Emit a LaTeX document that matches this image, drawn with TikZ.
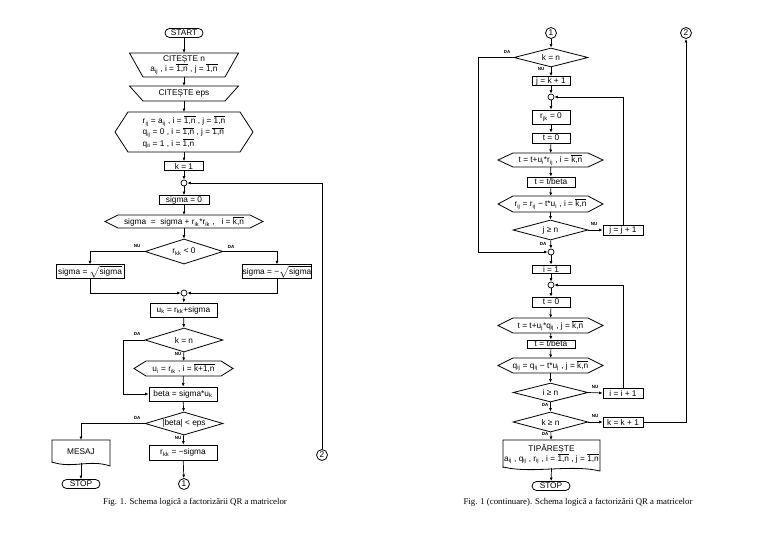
\documentclass[tikz,border=0pt]{standalone}
\usepackage{fontspec}
\setmainfont{Liberation Sans}
\newfontfamily\capfont{Liberation Serif}
\usetikzlibrary{shapes.geometric,arrows.meta}
\newcommand\sbs[1]{\textsubscript{#1}}
\newcommand\ovl[1]{$\overline{\mbox{#1}}$}
\newcommand\sqr[1]{$\sqrt{\mbox{#1}}$}
\newcommand\hexa[2]{\draw[shp] (#1.west) -- ([xshift=#2]#1.north west) -- ([xshift=-#2]#1.north east) -- (#1.east) -- ([xshift=-#2]#1.south east) -- ([xshift=#2]#1.south west) -- cycle;}
\newcommand\trap[2]{\draw[shp] (#1.north west) -- (#1.north east) -- ([xshift=-#2]#1.south east) -- ([xshift=#2]#1.south west) -- cycle;}
\newcommand\docshape[2]{\draw[shp] (#1.south west) -- (#1.north west) -- (#1.north east) -- ([yshift=-3pt]#1.south east) .. controls ([xshift=-#2,yshift=4pt]#1.south east) and ([xshift=#2,yshift=-6pt]#1.south west) .. ([yshift=1pt]#1.south west) -- cycle;}
\begin{document}
\begin{tikzpicture}[x=1pt,y=-1pt,
  every node/.style={font=\fontsize{8.3}{9.3}\selectfont, inner sep=0.5pt},
  shp/.style={line width=0.8pt},
  arr/.style={line width=0.7pt,-{Latex[length=3.5pt,width=3pt]}},
  ln/.style={line width=0.7pt},
  box/.style={draw,line width=0.8pt,minimum width=#1,minimum height=9pt},
  bx/.style={draw=none,outer sep=0pt,inner sep=0pt},
  term/.style={draw,line width=0.8pt,rounded corners=4.5pt,minimum width=38pt,minimum height=9pt,inner sep=0pt},
  dec/.style={diamond,draw,line width=0.8pt,aspect=3,inner sep=0pt},
  junc/.style={circle,draw,line width=0.7pt,fill=white,minimum size=6pt,inner sep=0pt},
  conn/.style={circle,draw,line width=0.8pt,minimum size=11pt,inner sep=0pt},
  yn/.style={font=\fontsize{4.5}{5}\selectfont\bfseries,inner sep=0pt}
]
\useasboundingbox (0,0) rectangle (768,543);

% ---------------- LEFT ----------------
\node[term] (start) at (184,33) {START};
\node[bx,minimum width=109pt,minimum height=24pt,align=center] (rd1) at (184,65) {CITEȘTE n\\a\sbs{ij} , i = \ovl{1,n} , j = \ovl{1,n}};
\trap{rd1}{13.5pt}
\node[bx,minimum width=109pt,minimum height=15pt] (rd2) at (184,93.5) {CITEȘTE eps};
\trap{rd2}{13.5pt}
\node[bx,minimum width=138pt,minimum height=40pt,align=left] (ini) at (184,132) {r\sbs{ij} = a\sbs{ij} , i = \ovl{1,n} , j = \ovl{1,n}\\q\sbs{ij} = 0 , i = \ovl{1,n} , j = \ovl{1,n}\\q\sbs{ii} = 1 , i = \ovl{1,n}};
\hexa{ini}{13pt}
\node[box=39pt] (k1) at (184,166) {k = 1};
\node[junc] (j1) at (184,183) {};
\node[box=50pt] (s0) at (184,200) {sigma = 0};
\node[bx,minimum width=158pt,minimum height=13pt] (ssum) at (184,221.5) {sigma \ = \ sigma + r\sbs{ik}*r\sbs{ik} , \ \ i = \ovl{k,n}};
\hexa{ssum}{13pt}
\node[dec,minimum width=78pt,minimum height=25pt] (d1) at (184,251.5) {r\sbs{kk} < 0};
\node[box=68pt,minimum height=11pt] (sl) at (90,271.5) {sigma = \sqr{sigma}};
\node[box=68pt,minimum height=11pt] (sr) at (277,271.5) {sigma = −\sqr{sigma}};
\node[junc] (j2) at (184,293) {};
\node[box=67pt,minimum height=14pt] (uk) at (183.5,310) {u\sbs{k} = r\sbs{kk}+sigma};
\node[dec,minimum width=78pt,minimum height=24pt] (d2) at (184,340) {k = n};
\node[bx,minimum width=99pt,minimum height=15pt] (ui) at (183.5,368.5) {u\sbs{i} = r\sbs{ik} , i = \ovl{k+1,n}};
\hexa{ui}{12pt}
\node[box=68pt,minimum height=14pt] (beta) at (183,394) {beta = sigma*u\sbs{k}};
\node[dec,minimum width=78pt,minimum height=23pt] (d3) at (184,423.5) {|beta| < eps};
\node[bx,minimum width=58pt,minimum height=23pt] (mes) at (81,451.5) {MESAJ};
\docshape{mes}{20pt}
\node[term] (stop1) at (81,484) {STOP};
\node[box=68pt,minimum height=15pt] (rkk) at (183,452.5) {r\sbs{kk} = −sigma};
\node[conn] (c1) at (184,484) {1};
\node[conn] (c2) at (322,455) {2};

\draw[arr] (start) -- (rd1);
\draw[arr] (rd1) -- (rd2);
\draw[arr] (rd2) -- (ini);
\draw[arr] (ini) -- (k1);
\draw[arr] (k1) -- (j1);
\draw[arr] (j1) -- (s0);
\draw[arr] (s0) -- (ssum);
\draw[arr] (ssum) -- (d1);
\draw[arr] (d1.west) -| (sl.north);
\draw[arr] (d1.east) -| (sr.north);
\draw[arr] (sl.south) |- (j2.west);
\draw[arr] (sr.south) |- (j2.east);
\draw[arr] (j2) -- (uk);
\draw[arr] (uk) -- (d2);
\draw[arr] (d2.west) -- ++(-21,0) |- (beta.west);
\draw[arr] (d2) -- (ui);
\draw[arr] (ui) -- (beta);
\draw[arr] (beta) -- (d3);
\draw[arr] (d3.west) -| (mes.north);
\draw[arr] (d3) -- (rkk);
\draw[arr] (rkk) -- (c1);
\draw[arr] (mes.south) -- (stop1);
\draw[arr] (c2.north) |- (j1.east);

\node[yn] (l1) at (137,246) {NU};
\node[yn] (l2) at (231,246.5) {DA};
\node[yn] (l3) at (137,334) {DA};
\node[yn] (l4) at (178,354) {NU};
\node[yn] (l5) at (137,418) {DA};
\node[yn] (l6) at (178,437.5) {NU};

% ---------------- RIGHT ----------------
\node[conn] (r1) at (551,33) {1};
\node[conn] (r2) at (686,33) {2};
\node[dec,minimum width=74pt,minimum height=19pt] (d4) at (551,57.5) {k = n};
\node[box=38pt,minimum height=8pt] (jk) at (551,81) {j = k + 1};
\node[junc] (j3) at (551,97) {};
\node[box=38pt,minimum height=14pt] (rjk) at (551,117) {r\sbs{jk} = 0};
\node[box=38pt,minimum height=10pt] (t0) at (551,138) {t = 0};
\node[bx,minimum width=105pt,minimum height=14pt] (ht) at (550.5,160) {t = t+u\sbs{i}*r\sbs{ij} , i = \ovl{k,n}};
\hexa{ht}{15pt}
\node[box=48pt,minimum height=10pt] (tb) at (551,182) {t = t/beta};
\node[bx,minimum width=105pt,minimum height=16pt] (hr) at (550.5,204) {r\sbs{ij} = r\sbs{ij} − t*u\sbs{i} , i = \ovl{k,n}};
\hexa{hr}{15pt}
\node[dec,minimum width=75pt,minimum height=20pt] (d5) at (550.5,230) {j ≥ n};
\node[box=40pt,minimum height=10pt] (jj) at (623,230) {j = j + 1};
\node[junc] (j5) at (551,252) {};
\node[box=38pt,minimum height=8pt] (i1) at (551,269) {i = 1};
\node[junc] (j4) at (551,285) {};
\node[box=38pt,minimum height=10pt] (t0b) at (551,302) {t = 0};
\node[bx,minimum width=105pt,minimum height=15pt] (ht2) at (550.5,325.5) {t = t+u\sbs{j}*q\sbs{ij} , j = \ovl{k,n}};
\hexa{ht2}{15pt}
\node[box=48pt,minimum height=8pt] (tb2) at (551,344) {t = t/beta};
\node[bx,minimum width=105pt,minimum height=15pt] (hq) at (550.5,365.5) {q\sbs{ij} = q\sbs{ij} − t*u\sbs{j} , j = \ovl{k,n}};
\hexa{hq}{15pt}
\node[dec,minimum width=75pt,minimum height=19pt] (d6) at (550.5,392.5) {i ≥ n};
\node[box=40pt,minimum height=10pt] (ii) at (623,393) {i = i + 1};
\node[dec,minimum width=75pt,minimum height=20pt] (d7) at (550.5,422) {k ≥ n};
\node[box=40pt,minimum height=10pt] (kk) at (623,422) {k = k + 1};
\node[bx,minimum width=97pt,minimum height=28pt,align=center] (tip) at (551.5,454) {TIPĂREȘTE\\a\sbs{ij} , q\sbs{ij} , r\sbs{ij} , i = \ovl{1,n} , j = \ovl{1,n}};
\docshape{tip}{30pt}
\node[term] (stop2) at (551,486) {STOP};

\draw[arr] (r1) -- (d4);
\draw[arr] (d4.west) -- ++(-35,0) |- (j5.west);
\draw[arr] (d4) -- (jk);
\draw[arr] (jk) -- (j3);
\draw[arr] (j3) -- (rjk);
\draw[arr] (rjk) -- (t0);
\draw[arr] (t0) -- (ht);
\draw[arr] (ht) -- (tb);
\draw[arr] (tb) -- (hr);
\draw[arr] (hr) -- (d5);
\draw[arr] (d5.east) -- (jj.west);
\draw[arr] (jj.north) |- (j3.east);
\draw[arr] (d5) -- (j5);
\draw[arr] (j5) -- (i1);
\draw[arr] (i1) -- (j4);
\draw[arr] (j4) -- (t0b);
\draw[arr] (t0b) -- (ht2);
\draw[arr] (ht2) -- (tb2);
\draw[arr] (tb2) -- (hq);
\draw[arr] (hq) -- (d6);
\draw[arr] (d6.east) -- (ii.west);
\draw[arr] (ii.north) |- (j4.east);
\draw[arr] (d6) -- (d7);
\draw[arr] (d7.east) -- (kk.west);
\draw[arr] (kk.east) -| (r2.south);
\draw[arr] (d7) -- (tip);
\draw[arr] (tip.south) -- (stop2);

\node[yn] (m1) at (507,52) {DA};
\node[yn] (m2) at (541,69) {NU};
\node[yn] (m3) at (594,224) {NU};
\node[yn] (m4) at (543,244) {DA};
\node[yn] (m5) at (595,387) {NU};
\node[yn] (m6) at (545,405) {DA};
\node[yn] (m7) at (595,416) {NU};
\node[yn] (m8) at (545,434) {DA};

% captions
\node[font=\capfont\fontsize{8.8}{10}\selectfont] (cap1) at (195,502) {Fig. 1. Schema logică a factorizării QR a matricelor};
\node[font=\capfont\fontsize{8.8}{10}\selectfont] (cap2) at (578,502) {Fig. 1 (continuare). Schema logică a factorizării QR a matricelor};
\end{tikzpicture}
\end{document}
